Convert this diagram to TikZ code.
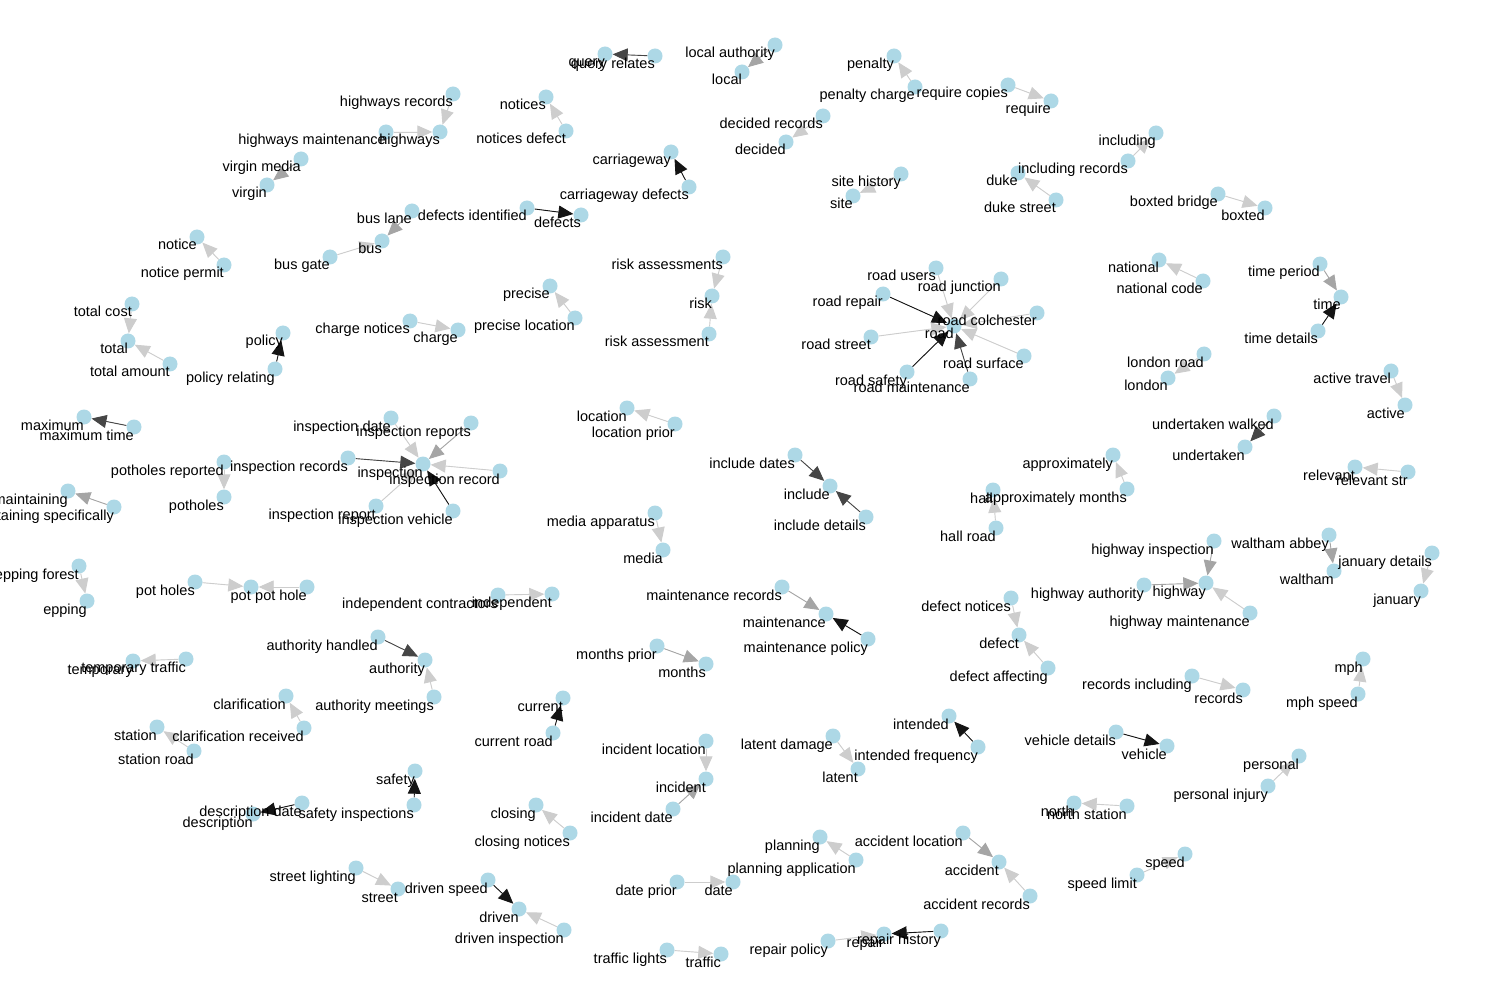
\documentclass[tikz,border=0pt]{standalone}
\usepackage{fontspec}
\setmainfont{Liberation Sans}
\usetikzlibrary{arrows.meta,backgrounds}
\definecolor{nodeblue}{RGB}{173,216,230}
\definecolor{edgeL}{RGB}{205,205,205}
\definecolor{edgeG}{RGB}{165,165,165}
\definecolor{edgeD}{RGB}{70,70,70}
\definecolor{edgeB}{RGB}{20,20,20}
\tikzset{
  vtx/.style={circle,fill=nodeblue,draw=none,minimum size=15pt,inner sep=0pt},
  lbl/.style={anchor=base east,inner sep=0pt,font=\fontsize{14.5}{16}\selectfont,text=black},
  edgebase/.style={line width=0.9pt,-{Triangle[length=15pt,width=13pt]}},
  eL/.style={edgebase,draw=edgeL,fill=edgeL},
  eG/.style={edgebase,draw=edgeG,fill=edgeG},
  eD/.style={edgebase,draw=edgeD,fill=edgeD},
  eB/.style={edgebase,draw=edgeB,fill=edgeB},
}
\newcommand\vertexlist{%
\vx{query}{605}{54}{query}
\vx{queryrelates}{655}{56}{query relates}
\vx{localauthority}{775}{45}{local authority}
\vx{local}{742}{72}{local}
\vx{penalty}{894}{56}{penalty}
\vx{penaltycharge}{915}{87}{penalty charge}
\vx{requirecopies}{1008}{85}{require copies}
\vx{require}{1051}{101}{require}
\vx{highwaysrecords}{453}{94}{highways records}
\vx{highwaysmaintenance}{386}{132}{highways maintenance}
\vx{highways}{440}{132}{highways}
\vx{notices}{546}{97}{notices}
\vx{noticesdefect}{566}{131}{notices defect}
\vx{decidedrecords}{823}{116}{decided records}
\vx{decided}{786}{142}{decided}
\vx{virginmedia}{301}{159}{virgin media}
\vx{virgin}{267}{185}{virgin}
\vx{carriageway}{671}{152}{carriageway}
\vx{carriagewaydefects}{689}{187}{carriageway defects}
\vx{sitehistory}{901}{174}{site history}
\vx{site}{853}{196}{site}
\vx{including}{1156}{133}{including}
\vx{includingrecords}{1128}{161}{including records}
\vx{duke}{1018}{173}{duke}
\vx{dukestreet}{1056}{200}{duke street}
\vx{boxtedbridge}{1218}{194}{boxted bridge}
\vx{boxted}{1265}{208}{boxted}
\vx{buslane}{412}{211}{bus lane}
\vx{bus}{382}{241}{bus}
\vx{busgate}{330}{257}{bus gate}
\vx{defectsidentified}{527}{208}{defects identified}
\vx{defects}{581}{215}{defects}
\vx{notice}{197}{237}{notice}
\vx{noticepermit}{224}{265}{notice permit}
\vx{riskassessments}{723}{257}{risk assessments}
\vx{risk}{712}{296}{risk}
\vx{riskassessment}{709}{334}{risk assessment}
\vx{precise}{550}{286}{precise}
\vx{preciselocation}{575}{318}{precise location}
\vx{chargenotices}{410}{321}{charge notices}
\vx{charge}{458}{330}{charge}
\vx{policy}{283}{333}{policy}
\vx{policyrelating}{275}{369}{policy relating}
\vx{totalcost}{132}{304}{total cost}
\vx{total}{128}{341}{total}
\vx{totalamount}{170}{364}{total amount}
\vx{roadusers}{936}{268}{road users}
\vx{roadjunction}{1001}{279}{road junction}
\vx{roadrepair}{883}{294}{road repair}
\vx{roadcolchester}{1037}{313}{road colchester}
\vx{road}{954}{326}{road}
\vx{roadstreet}{871}{337}{road street}
\vx{roadsurface}{1024}{356}{road surface}
\vx{roadsafety}{907}{372}{road safety}
\vx{roadmaintenance}{970}{379}{road maintenance}
\vx{national}{1159}{260}{national}
\vx{nationalcode}{1203}{281}{national code}
\vx{timeperiod}{1320}{264}{time period}
\vx{time}{1341}{297}{time}
\vx{timedetails}{1318}{331}{time details}
\vx{londonroad}{1204}{354}{london road}
\vx{london}{1168}{378}{london}
\vx{activetravel}{1391}{371}{active travel}
\vx{active}{1405}{405}{active}
\vx{maximum}{84}{417}{maximum}
\vx{maximumtime}{134}{427}{maximum time}
\vx{inspectiondate}{391}{418}{inspection date}
\vx{inspectionreports}{471}{423}{inspection reports}
\vx{inspectionrecords}{348}{458}{inspection records}
\vx{inspection}{423}{464}{inspection}
\vx{inspectionrecord}{500}{471}{inspection record}
\vx{inspectionreport}{376}{506}{inspection report}
\vx{inspectionvehicle}{453}{511}{inspection vehicle}
\vx{potholesreported}{224}{462}{potholes reported}
\vx{potholes}{224}{497}{potholes}
\vx{location}{627}{408}{location}
\vx{locationprior}{675}{424}{location prior}
\vx{undertakenwalked}{1274}{416}{undertaken walked}
\vx{undertaken}{1245}{447}{undertaken}
\vx{includedates}{795}{455}{include dates}
\vx{include}{830}{486}{include}
\vx{includedetails}{866}{517}{include details}
\vx{approximately}{1113}{455}{approximately}
\vx{approximatelymonths}{1127}{489}{approximately months}
\vx{hall}{993}{490}{hall}
\vx{hallroad}{996}{528}{hall road}
\vx{relevant}{1355}{467}{relevant}
\vx{relevantstr}{1408}{472}{relevant str}
\vx{maintaining}{68}{491}{maintaining}
\vx{maintainingspecifically}{114}{507}{maintaining specifically}
\vx{mediaapparatus}{655}{513}{media apparatus}
\vx{media}{663}{550}{media}
\vx{highwayinspection}{1214}{541}{highway inspection}
\vx{highwayauthority}{1144}{585}{highway authority}
\vx{highway}{1206}{583}{highway}
\vx{highwaymaintenance}{1250}{613}{highway maintenance}
\vx{walthamabbey}{1329}{535}{waltham abbey}
\vx{waltham}{1334}{571}{waltham}
\vx{januarydetails}{1432}{553}{january details}
\vx{january}{1421}{591}{january}
\vx{eppingforest}{79}{566}{epping forest}
\vx{epping}{87}{601}{epping}
\vx{potholesb}{195}{582}{pot holes}
\vx{pot}{251}{587}{pot}
\vx{pothole}{307}{587}{pot hole}
\vx{independentcontractors}{498}{595}{independent contractors}
\vx{independent}{552}{594}{independent}
\vx{maintenancerecords}{782}{587}{maintenance records}
\vx{maintenance}{826}{614}{maintenance}
\vx{maintenancepolicy}{868}{639}{maintenance policy}
\vx{defectnotices}{1011}{598}{defect notices}
\vx{defect}{1019}{635}{defect}
\vx{defectaffecting}{1048}{668}{defect affecting}
\vx{authorityhandled}{378}{637}{authority handled}
\vx{authority}{425}{660}{authority}
\vx{authoritymeetings}{434}{697}{authority meetings}
\vx{temporary}{133}{661}{temporary}
\vx{temporarytraffic}{186}{659}{temporary traffic}
\vx{monthsprior}{657}{646}{months prior}
\vx{months}{706}{664}{months}
\vx{mph}{1363}{659}{mph}
\vx{mphspeed}{1358}{694}{mph speed}
\vx{recordsincluding}{1192}{676}{records including}
\vx{records}{1243}{690}{records}
\vx{clarification}{286}{696}{clarification}
\vx{clarificationreceived}{304}{728}{clarification received}
\vx{station}{157}{727}{station}
\vx{stationroad}{194}{751}{station road}
\vx{current}{563}{698}{current}
\vx{currentroad}{553}{733}{current road}
\vx{incidentlocation}{706}{741}{incident location}
\vx{incident}{706}{779}{incident}
\vx{incidentdate}{673}{809}{incident date}
\vx{latentdamage}{833}{736}{latent damage}
\vx{latent}{858}{769}{latent}
\vx{intended}{949}{716}{intended}
\vx{intendedfrequency}{978}{747}{intended frequency}
\vx{vehicledetails}{1116}{732}{vehicle details}
\vx{vehicle}{1167}{746}{vehicle}
\vx{personal}{1299}{756}{personal}
\vx{personalinjury}{1268}{786}{personal injury}
\vx{safety}{415}{771}{safety}
\vx{safetyinspections}{414}{805}{safety inspections}
\vx{description}{253}{814}{description}
\vx{descriptiondate}{302}{803}{description date}
\vx{closing}{536}{805}{closing}
\vx{closingnotices}{570}{833}{closing notices}
\vx{north}{1074}{803}{north}
\vx{northstation}{1127}{806}{north station}
\vx{planning}{820}{837}{planning}
\vx{planningapplication}{856}{860}{planning application}
\vx{accidentlocation}{963}{833}{accident location}
\vx{accident}{999}{862}{accident}
\vx{accidentrecords}{1030}{896}{accident records}
\vx{speed}{1185}{854}{speed}
\vx{speedlimit}{1137}{875}{speed limit}
\vx{streetlighting}{356}{868}{street lighting}
\vx{street}{398}{889}{street}
\vx{drivenspeed}{488}{880}{driven speed}
\vx{driven}{519}{909}{driven}
\vx{driveninspection}{564}{930}{driven inspection}
\vx{dateprior}{677}{882}{date prior}
\vx{date}{733}{882}{date}
\vx{trafficlights}{667}{950}{traffic lights}
\vx{traffic}{721}{954}{traffic}
\vx{repairpolicy}{828}{941}{repair policy}
\vx{repair}{884}{934}{repair}
\vx{repairhistory}{941}{931}{repair history}
}
\newcommand\ed[3]{\draw[#1] (#2) -- (#3);}
\begin{document}
\begin{tikzpicture}[x=1pt,y=-1pt]
\useasboundingbox (0,0) rectangle (1500,1000);
\clip (0,0) rectangle (1500,1000);
\def\vx#1#2#3#4{\node[vtx] (#1) at (#2,#3) {};}
\vertexlist
\begin{pgfonlayer}{background}
\fill[white] (0,0) rectangle (1500,1000);
\ed{eD}{queryrelates}{query}
\ed{eG}{localauthority}{local}
\ed{eL}{penaltycharge}{penalty}
\ed{eL}{requirecopies}{require}
\ed{eL}{highwaysrecords}{highways}
\ed{eL}{highwaysmaintenance}{highways}
\ed{eL}{noticesdefect}{notices}
\ed{eL}{decidedrecords}{decided}
\ed{eG}{virginmedia}{virgin}
\ed{eB}{carriagewaydefects}{carriageway}
\ed{eL}{sitehistory}{site}
\ed{eL}{includingrecords}{including}
\ed{eL}{dukestreet}{duke}
\ed{eL}{boxtedbridge}{boxted}
\ed{eG}{buslane}{bus}
\ed{eL}{busgate}{bus}
\ed{eB}{defectsidentified}{defects}
\ed{eL}{noticepermit}{notice}
\ed{eL}{riskassessments}{risk}
\ed{eL}{riskassessment}{risk}
\ed{eL}{preciselocation}{precise}
\ed{eL}{chargenotices}{charge}
\ed{eB}{policyrelating}{policy}
\ed{eL}{totalcost}{total}
\ed{eL}{totalamount}{total}
\ed{eL}{roadusers}{road}
\ed{eL}{roadjunction}{road}
\ed{eB}{roadrepair}{road}
\ed{eL}{roadcolchester}{road}
\ed{eL}{roadstreet}{road}
\ed{eL}{roadsurface}{road}
\ed{eB}{roadsafety}{road}
\ed{eD}{roadmaintenance}{road}
\ed{eL}{nationalcode}{national}
\ed{eG}{timeperiod}{time}
\ed{eB}{timedetails}{time}
\ed{eL}{londonroad}{london}
\ed{eL}{activetravel}{active}
\ed{eD}{maximumtime}{maximum}
\ed{eL}{inspectiondate}{inspection}
\ed{eG}{inspectionreports}{inspection}
\ed{eD}{inspectionrecords}{inspection}
\ed{eL}{inspectionrecord}{inspection}
\ed{eL}{inspectionreport}{inspection}
\ed{eB}{inspectionvehicle}{inspection}
\ed{eL}{potholesreported}{potholes}
\ed{eL}{locationprior}{location}
\ed{eD}{undertakenwalked}{undertaken}
\ed{eD}{includedates}{include}
\ed{eD}{includedetails}{include}
\ed{eL}{approximatelymonths}{approximately}
\ed{eL}{hallroad}{hall}
\ed{eL}{relevantstr}{relevant}
\ed{eG}{maintainingspecifically}{maintaining}
\ed{eL}{mediaapparatus}{media}
\ed{eG}{highwayinspection}{highway}
\ed{eG}{highwayauthority}{highway}
\ed{eL}{highwaymaintenance}{highway}
\ed{eG}{walthamabbey}{waltham}
\ed{eL}{januarydetails}{january}
\ed{eL}{eppingforest}{epping}
\ed{eL}{potholesb}{pot}
\ed{eL}{pothole}{pot}
\ed{eL}{independentcontractors}{independent}
\ed{eG}{maintenancerecords}{maintenance}
\ed{eB}{maintenancepolicy}{maintenance}
\ed{eL}{defectnotices}{defect}
\ed{eL}{defectaffecting}{defect}
\ed{eD}{authorityhandled}{authority}
\ed{eL}{authoritymeetings}{authority}
\ed{eL}{temporarytraffic}{temporary}
\ed{eG}{monthsprior}{months}
\ed{eL}{mphspeed}{mph}
\ed{eL}{recordsincluding}{records}
\ed{eL}{clarificationreceived}{clarification}
\ed{eL}{stationroad}{station}
\ed{eB}{currentroad}{current}
\ed{eL}{incidentlocation}{incident}
\ed{eG}{incidentdate}{incident}
\ed{eL}{latentdamage}{latent}
\ed{eB}{intendedfrequency}{intended}
\ed{eB}{vehicledetails}{vehicle}
\ed{eL}{personalinjury}{personal}
\ed{eB}{safetyinspections}{safety}
\ed{eB}{descriptiondate}{description}
\ed{eL}{closingnotices}{closing}
\ed{eL}{northstation}{north}
\ed{eL}{planningapplication}{planning}
\ed{eG}{accidentlocation}{accident}
\ed{eL}{accidentrecords}{accident}
\ed{eL}{speedlimit}{speed}
\ed{eL}{streetlighting}{street}
\ed{eB}{drivenspeed}{driven}
\ed{eL}{driveninspection}{driven}
\ed{eL}{dateprior}{date}
\ed{eL}{trafficlights}{traffic}
\ed{eL}{repairpolicy}{repair}
\ed{eB}{repairhistory}{repair}
\end{pgfonlayer}
\def\vx#1#2#3#4{\node[lbl] (#1-l) at (#2,#3+13) {#4};}
\vertexlist
\end{tikzpicture}
\end{document}
